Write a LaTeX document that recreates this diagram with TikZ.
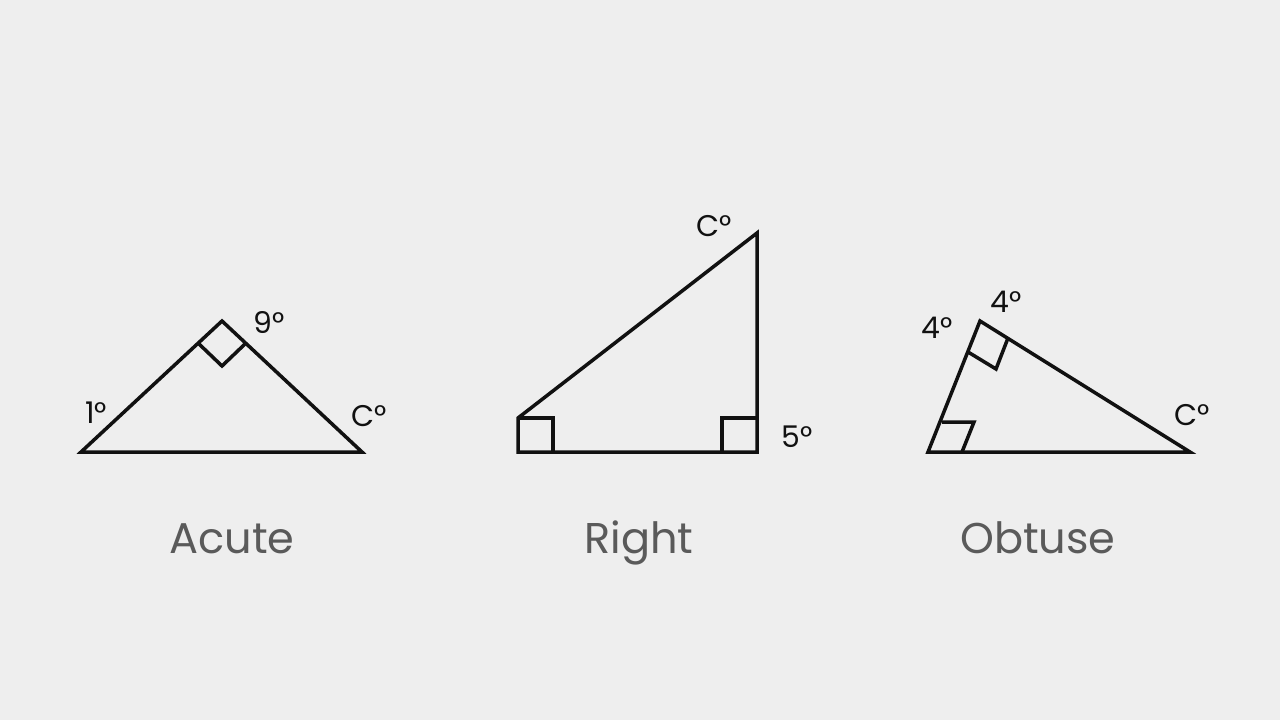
\documentclass[tikz,border=0pt]{standalone}
\usepackage{fontspec}
\setmainfont{Poppins}
\usetikzlibrary{positioning}
\definecolor{paper}{HTML}{EEEEEE}
\definecolor{ink}{HTML}{111111}
\definecolor{caption}{HTML}{5A5A5A}

\begin{document}
\begin{tikzpicture}[x=0.02cm, y=-0.02cm,
	edge/.style={line width=2pt, line join=miter, draw=ink},
	anglelbl/.style={anchor=base, inner sep=0pt, text=ink, font=\fontsize{17}{20}\selectfont},
	title/.style={anchor=base, inner sep=0pt, text=caption, font=\fontsize{24.5}{30}\selectfont}]

\path [use as bounding box, fill=paper] (0,0) rectangle (1280,720);

% ACUTE
\coordinate (a1) at (81,452);
\coordinate (a2) at (222,321);
\coordinate (a3) at (362,452);
\draw [edge] (a1) -- (a2) -- (a3) -- cycle;
\draw [edge] (a2) ++(-24,22) -- ++(24,23) -- ++(24,-23);
\node [anglelbl] (acuteA) at (96,423) {1°};
\node [anglelbl] (acuteB) at (269,333) {9°};
\node [anglelbl] (acuteC) at (369,426) {C°};

% RIGHT
\coordinate (r0) at (518,418);
\coordinate (r1) at (518,452);
\coordinate (r2) at (757,452);
\coordinate (r3) at (757,233);
\draw [edge] (r0) -- (r3) -- (r2) -- (r1) -- cycle;
\draw [edge] (r0) -- ++(35,0) -- ++(0,34);
\draw [edge] (r2) ++(-35,0) -- ++(0,-34) -- ++(35,0);
\node [anglelbl] (rightC) at (714,236) {C°};
\node [anglelbl] (rightB) at (797,447) {5°};

% OBTUSE
\coordinate (o1) at (928,452);
\coordinate (o2) at (980,321);
\coordinate (o3) at (1190,452);
\draw [edge] (o1) -- (o2) -- (o3) -- cycle;
\draw [edge] (o2) ++(-12,31) -- ++(28,17) -- ++(12,-31);
\draw [edge] (o1) ++(14,-30) -- ++(32,0) -- ++(-12,30);
\node [anglelbl] (obtuseA) at (937,338) {4°};
\node [anglelbl] (obtuseB) at (1006,312) {4°};
\node [anglelbl] (obtuseC) at (1192,425) {C°};

% NAMES
\node [title] (acute) at (232,553) {Acute};
\node [title] (right) at (639,553) {Right};
\node [title] (obtuse) at (1038,553) {Obtuse};

\end{tikzpicture}
\end{document}
